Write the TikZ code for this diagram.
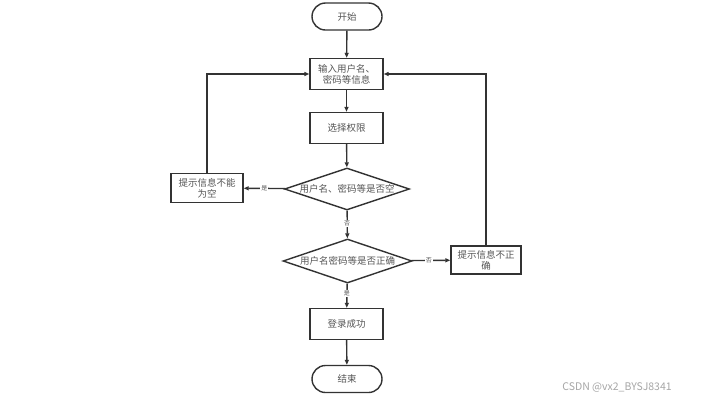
\documentclass[tikz,border=0pt]{standalone}
\usepackage{fontspec}
\setmainfont{Noto Sans CJK SC}
\usepackage{tikz}
\usetikzlibrary{shapes.geometric,arrows.meta}

\definecolor{linegray}{HTML}{333333}
\definecolor{textgray}{HTML}{555555}

\begin{document}
\begin{tikzpicture}[x=1pt,y=-1pt,-{Triangle[length=5pt,width=4pt]},
			line width=1.4pt,draw=linegray,
			font=\fontsize{9.5}{11}\selectfont,
			every node/.style={text=textgray},
			term node/.style={draw=linegray,rectangle,rounded corners=13.5pt,minimum width=70pt,minimum height=27pt,inner sep=0pt},
			box node/.style={draw=linegray,rectangle,minimum width=73pt,minimum height=31pt,inner sep=0pt,align=center},
			hint node/.style={draw=linegray,rectangle,minimum width=72pt,minimum height=29pt,inner sep=0pt,align=center},
			test node/.style={draw=linegray,diamond,inner sep=0pt},
			edge label/.style={fill=white,inner sep=1pt,font=\fontsize{6}{7}\selectfont}]

		\useasboundingbox[fill=white] (0,0) rectangle (701,400);

		\node[term node] (start) at (347,16.5) {开始};
		\node[box node] (input) at (346.5,74) {输入用户名、\\密码等信息};
		\node[box node] (role) at (346.5,128) {选择权限};
		\node[test node,minimum width=125pt,minimum height=42pt,
			label={center:用户名、密码等是否空}] (empty) at (347,189) {};
		\node[hint node] (hintempty) at (207,188) {提示信息不能\\为空};
		\node[test node,minimum width=129pt,minimum height=44pt,
			label={center:用户名密码等是否正确}] (check) at (347.5,261) {};
		\node[hint node,minimum width=70pt,minimum height=28pt] (hintwrong) at (486,260) {提示信息不正\\确};
		\node[box node] (success) at (346.5,324) {登录成功};
		\node[term node] (stop) at (347,379) {结束};

		\node[text=black!35,font=\fontsize{10.5}{12}\selectfont] (mark) at (617,387) {CSDN @vx2\_BYSJ8341};

		\draw (start) -- (input);
		\draw (input) -- (role);
		\draw (role) -- (empty);
		\draw (empty) -- node[edge label] {是} (hintempty);
		\draw (empty) -- node[edge label,pos=0.45] {否} (check);
		\draw (check) -- node[edge label,pos=0.45] {否} (hintwrong);
		\draw (check) -- node[edge label,pos=0.4] {是} (success);
		\draw (success) -- (stop);
		\draw (hintempty.north) |- (input.west);
		\draw (hintwrong.north) |- (input.east);
	\end{tikzpicture}
\end{document}
